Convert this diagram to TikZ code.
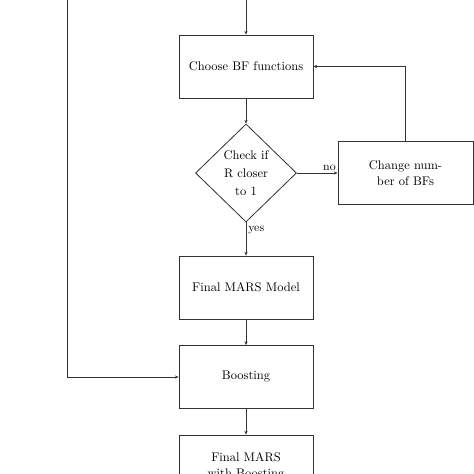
\documentclass[tikz,border=0pt]{standalone}
\usetikzlibrary{shapes.geometric,arrows.meta}
\begin{document}
\begin{tikzpicture}[x=0.8pt,y=-0.8pt,
  every node/.style={font=\fontsize{10}{13}\selectfont},
  procbox/.style={draw=black!80,line width=0.65pt,minimum width=107.2pt,minimum height=50.4pt,inner sep=2pt,align=center},
  decbox/.style={draw=black!80,line width=0.65pt,shape=diamond,minimum width=80.8pt,minimum height=78.4pt,inner sep=0pt,align=center,font=\fontsize{10}{14.5}\selectfont},
  flow/.style={draw=black!80,line width=0.65pt,-{Stealth[length=3pt,width=2.6pt]}},
  lbl/.style={font=\fontsize{9.5}{11}\selectfont,inner sep=1.5pt}]
\useasboundingbox (0,0) rectangle (474,474);
\clip (0,0) rectangle (474,474);
\coordinate (topin) at (246,0);
\coordinate (leftin) at (67,0);
\node[procbox] (choose) at (246,66.5) {Choose BF functions};
\node[decbox] (check) at (246,173) {Check if\\R closer\\to 1};
\node[procbox,minimum width=108pt] (change) at (405.5,173) {Change num-\\ber of BFs};
\node[procbox] (final) at (246,287.5) {Final MARS Model};
\node[procbox] (boost) at (246,377) {Boosting};
\node[procbox] (result) at (246,466.5) {Final MARS\\with Boosting};
\draw[flow] (topin) -- (choose.north);
\draw[flow] (choose) -- (check);
\draw[flow] (check.east) -- node[lbl,pos=0.8,above] {no} (change.west);
\draw[flow] (change.north) |- (choose.east);
\draw[flow] (check.south) -- node[lbl,pos=0.22,right] {yes} (final.north);
\draw[flow] (final) -- (boost);
\draw[flow] (leftin) |- (boost.west);
\draw[flow] (boost) -- (result);
\end{tikzpicture}
\end{document}
